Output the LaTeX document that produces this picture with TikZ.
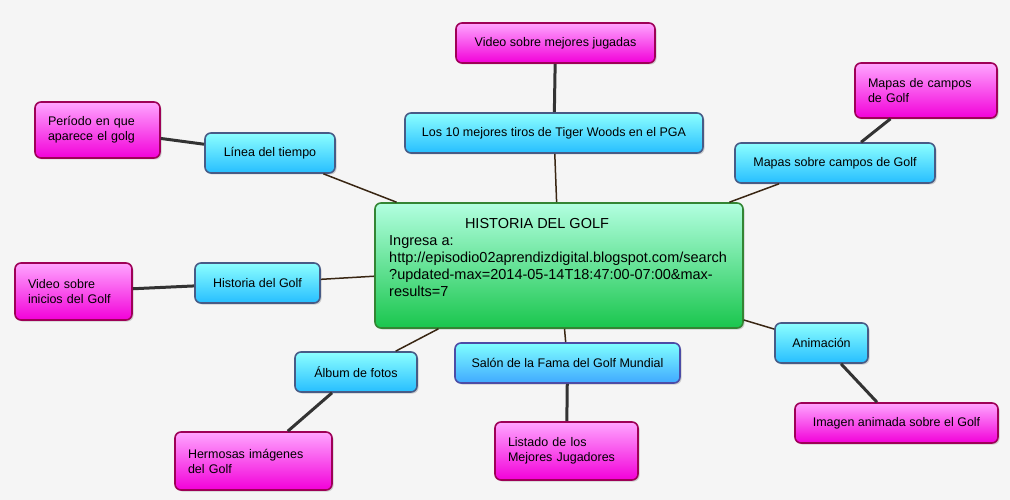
\documentclass[tikz,border=0pt]{standalone}
\usepackage{fontspec}
\setmainfont{Liberation Sans}
\usetikzlibrary{shadows}
\begin{document}
\begin{tikzpicture}[x=1pt,y=-1pt,
 box/.style={rounded corners=6pt,line width=1.6pt,font=\fontsize{12.5}{15}\selectfont,inner sep=0pt,drop shadow={opacity=0.35,shadow xshift=1.5pt,shadow yshift=-1.5pt}},
 mag/.style={box,draw=black!30!purple!80!magenta,top color=magenta!35,bottom color=magenta!80!purple,align=left},
 cya/.style={box,draw=cyan!40!blue!60!black,top color=cyan!45,bottom color=cyan!70!blue!85,align=center},
 link/.style={draw=black!70!brown,line width=1.5pt},
 thick link/.style={draw=black!80,line width=3pt}]
\useasboundingbox[fill=gray!8] (0,0) rectangle (1010,500);
\node[box,draw=green!40!black!80,top color=green!40!cyan!30,bottom color=green!70!cyan!75!black!90,minimum width=368,minimum height=125] (c) at (559,265.5) {};
\node[font=\fontsize{14.5}{17}\selectfont] at (537,224) {HISTORIA DEL GOLF};
\node[font=\fontsize{14.5}{17}\selectfont,align=left,anchor=north west,inner sep=0pt] at (389,235) {Ingresa a:\\http://episodio02aprendizdigital.blogspot.com/search\\?updated-max=2014-05-14T18:47:00-07:00\&max-\\results=7};
\node[mag,minimum width=199,minimum height=40,align=center] (v1) at (555.5,43) {Video sobre mejores jugadas};
\node[cya,minimum width=298,minimum height=40] (t10) at (554,133) {Los 10 mejores tiros de Tiger Woods en el PGA};
\node[mag,minimum width=142,minimum height=55,text width=116] (mc) at (926,90.5) {Mapas de campos\\de Golf};
\node[cya,minimum width=200,minimum height=40] (ms) at (835,163) {Mapas sobre campos de Golf};
\node[mag,minimum width=125,minimum height=56,text width=99] (pe) at (97.5,130) {Período en que\\aparece el golg};
\node[cya,minimum width=130,minimum height=40] (lt) at (270,153) {Línea del tiempo};
\node[mag,minimum width=117,minimum height=57,text width=91] (vi) at (73.5,291.5) {Video sobre\\inicios del Golf};
\node[cya,minimum width=125,minimum height=40] (hg) at (257.5,283) {Historia del Golf};
\node[cya,minimum width=122,minimum height=40] (af) at (356,372) {Álbum de fotos};
\node[box,draw=blue!50!black!70,top color=cyan!50,bottom color=blue!45!cyan!75,minimum width=225,minimum height=40] (sf) at (567.5,363) {Salón de la Fama del Golf Mundial};
\node[cya,minimum width=93,minimum height=40] (an) at (821.5,343) {Animación};
\node[mag,minimum width=157,minimum height=58,text width=131] (hi) at (253.5,461) {Hermosas imágenes\\del Golf};
\node[mag,minimum width=143,minimum height=58,text width=117] (li) at (566.5,451) {Listado de los\\Mejores Jugadores};
\node[mag,minimum width=203,minimum height=40,align=center] (ia) at (896.5,423) {Imagen animada sobre el Golf};
\path[thick link] (v1) -- (t10);
\path[thick link] (mc) -- (ms);
\path[thick link] (pe) -- (lt);
\path[thick link] (vi) -- (hg);
\path[thick link] (hi) -- (af);
\path[thick link] (li) -- (sf);
\path[thick link] (ia) -- (an);
\path[link] (c) -- (t10);
\path[link] (c) -- (ms);
\path[link] (c) -- (lt);
\path[link] (c) -- (hg);
\path[link] (c) -- (af);
\path[link] (c) -- (sf);
\path[link] (c) -- (an);
\end{tikzpicture}
\end{document}
